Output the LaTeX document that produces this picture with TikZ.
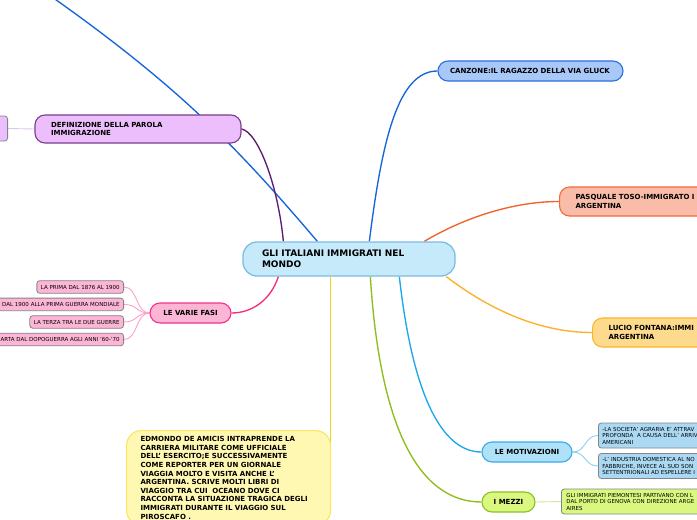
\documentclass[tikz,border=0pt]{standalone}
\usepackage{fontspec}
\setmainfont{DejaVu Sans}
\usepackage{tikz}
\usetikzlibrary{calc,positioning,shapes}
\pgfdeclarelayer{bg}
\pgfsetlayers{bg,main}

\definecolor{rootfill}{HTML}{C6EAFA}
\definecolor{rootline}{HTML}{7CBDE4}
\definecolor{songfill}{HTML}{A8C8F8}
\definecolor{songline}{HTML}{2C6EDD}
\definecolor{tosofill}{HTML}{F9BCA8}
\definecolor{tosoline}{HTML}{F26A3B}
\definecolor{fontfill}{HTML}{FEDB8C}
\definecolor{fontline}{HTML}{FBB52A}
\definecolor{motfill}{HTML}{AFE1F9}
\definecolor{motline}{HTML}{3AABEA}
\definecolor{causefill}{HTML}{ABD9F3}
\definecolor{mezfill}{HTML}{DAF77F}
\definecolor{mezline}{HTML}{8CC21F}
\definecolor{fasefill}{HTML}{FDB5D5}
\definecolor{faseline}{HTML}{F0338A}
\definecolor{defnfill}{HTML}{ECBFFC}
\definecolor{defnline}{HTML}{7B3C8F}
\definecolor{edmfill}{HTML}{FFF8B3}
\definecolor{edmline}{HTML}{FBE563}
\definecolor{leafline}{HTML}{82868C}
\definecolor{bluelink}{HTML}{1766D9}
\definecolor{purplelink}{HTML}{5C1C72}
\definecolor{orangelink}{HTML}{F2612C}
\definecolor{amberlink}{HTML}{FCB12A}
\definecolor{skylink}{HTML}{1DA8EA}
\definecolor{greenlink}{HTML}{8EBD1E}
\definecolor{yellowlink}{HTML}{EAD41F}
\definecolor{pinklink}{HTML}{F2317F}
\definecolor{pinktwig}{HTML}{F9A3CB}
\definecolor{skytwig}{HTML}{8DD1F3}
\definecolor{greentwig}{HTML}{CFE99A}
\definecolor{lilactwig}{HTML}{DCC8E6}

\tikzset{%
	root/.style   = {draw=rootline, fill=rootfill, line width=1.3pt, rounded corners=14pt, align=left, font=\bfseries\fontsize{9}{11}\selectfont}, % Centre
	branch/.style = {line width=1.1pt, rounded corners=10pt, font=\bfseries\fontsize{7}{8.6}\selectfont}, % Main topic
	leaf/.style   = {draw=leafline, line width=0.8pt, rounded corners=3pt, inner xsep=4pt, font=\fontsize{5.5}{6.5}\selectfont}, % Sub topic
	link/.style   = {line width=1.35pt}, % Main connector
	twig/.style   = {line width=0.9pt}, % Sub connector
}

\begin{document}
\begin{tikzpicture}[x=1pt, y=-1pt]
	\useasboundingbox (0,0) rectangle (697,520);
	\node[root, text width=174pt, inner xsep=19pt, minimum height=34pt] (root) at (349,259) {GLI ITALIANI IMMIGRATI NEL\\MONDO};
	\node[branch, draw=songline, fill=songfill, text width=161pt, inner xsep=12pt, minimum height=20pt] (song) at (530.5,71) {CANZONE:IL RAGAZZO DELLA VIA GLUCK};
	\node[branch, draw=tosoline, fill=tosofill, anchor=west, align=left, text width=200pt, inner xsep=16pt, minimum height=29pt] (toso) at (559,201.5) {PASQUALE TOSO-IMMIGRATO I\\ARGENTINA};
	\node[branch, draw=fontline, fill=fontfill, anchor=west, align=left, text width=200pt, inner xsep=16pt, minimum height=29pt] (fontana) at (592,332.5) {LUCIO FONTANA:IMMI\\ARGENTINA};
	\node[branch, draw=defnline, fill=defnfill, align=left, text width=174pt, inner xsep=16pt, minimum height=28pt] (defn) at (138,129) {DEFINIZIONE DELLA PAROLA\\IMMIGRAZIONE};
	\node[leaf, fill=defnfill, anchor=east, minimum width=40pt, minimum height=25pt] (defnleaf) at (8,128.5) {};
	\node[branch, draw=faseline, fill=fasefill, minimum width=81pt, minimum height=20pt] (fasi) at (190.5,313) {LE VARIE FASI};
	\node[leaf, fill=fasefill, anchor=east, minimum height=12.6pt] (fase1) at (124,287) {LA PRIMA DAL 1876 AL 1900};
	\node[leaf, fill=fasefill, anchor=east, minimum height=12.6pt, text width=135pt, align=right] (fase2) at (124,304.4) {DAL 1900 ALLA PRIMA GUERRA MONDIALE};
	\node[leaf, fill=fasefill, anchor=east, minimum height=12.6pt] (fase3) at (124,322) {LA TERZA TRA LE DUE GUERRE};
	\node[leaf, fill=fasefill, anchor=east, minimum height=12.6pt, text width=135pt, align=right] (fase4) at (124,339.5) {ARTA DAL DOPOGUERRA AGLI ANNI '60-'70};
	\node[branch, draw=motline, fill=motfill, minimum width=90pt, minimum height=20pt] (motiv) at (527,452) {LE MOTIVAZIONI};
	\node[leaf, fill=causefill, anchor=west, align=left, text width=150pt, minimum height=25pt] (cause1) at (598,435.5) {-LA SOCIETA' AGRARIA E' ATTRAV\\PROFONDA\ \ A CAUSA DELL' ARRIV\\AMERICANI};
	\node[leaf, fill=causefill, anchor=west, align=left, text width=150pt, minimum height=25pt] (cause2) at (598,466) {-L' INDUSTRIA DOMESTICA AL NO\\FABBRICHE, INVECE AL SUD SON\\SETTENTRIONALI AD ESPELLERE I};
	\node[branch, draw=mezline, fill=mezfill, minimum width=53pt, minimum height=20pt] (mezzi) at (508.5,502) {I MEZZI};
	\node[leaf, fill=mezfill, anchor=west, align=left, text width=180pt, inner xsep=5pt, minimum height=25pt] (mezzo) at (561,501.5) {GLI IMMIGRATI PIEMONTESI PARTIVANO CON L\\DAL PORTO DI GENOVA CON DIREZIONE ARGE\\AIRES};
	\node[branch, draw=edmline, fill=edmfill, rounded corners=15pt, anchor=north west, align=left, text width=176pt, inner xsep=14pt, inner ysep=6pt, minimum height=94pt] (edm) at (126,430) {EDMONDO DE AMICIS INTRAPRENDE LA\\CARRIERA MILITARE COME UFFICIALE\\DELL' ESERCITO;E SUCCESSIVAMENTE\\COME REPORTER PER UN GIORNALE\\VIAGGIA MOLTO E VISITA ANCHE L'\\ARGENTINA. SCRIVE MOLTI LIBRI DI\\VIAGGIO TRA CUI\ \ OCEANO DOVE CI\\RACCONTA LA SITUAZIONE TRAGICA DEGLI\\IMMIGRATI DURANTE IL VIAGGIO SUL\\PIROSCAFO .};
	\coordinate (offtop) at (13,-30);
	\begin{pgfonlayer}{bg}
	\fill[white] (0,0) rectangle (697,520);
	\draw[link, bluelink] ($(root.north west)+(75,0)$) .. controls (235,145) and (175,80) .. (offtop);
	\draw[link, purplelink] (defn.east) .. controls (258,132) and (278,185) .. ($(root.north west)+(41,0)$);
	\draw[link, bluelink] ($(root.north west)+(127,0)$) .. controls (382,140) and (398,71) .. (song.west);
	\draw[link, orangelink] ($(root.north west)+(182,0)$) .. controls (460,220) and (510,201.5) .. (toso.west);
	\draw[link, amberlink] ($(root.south west)+(204,0)$) .. controls (490,310) and (540,332.5) .. (fontana.west);
	\draw[link, skylink] ($(root.south west)+(157,0)$) .. controls (412,390) and (440,452) .. (motiv.west);
	\draw[link, greenlink] ($(root.south west)+(128,0)$) .. controls (380,430) and (420,502) .. (mezzi.west);
	\draw[link, yellowlink] ($(root.south west)+(88,0)$) |- (edm.east);
	\draw[link, pinklink] ($(root.south west)+(36,0)$) .. controls (270,302) and (250,313) .. (fasi.east);
	\draw[twig, lilactwig] (defn.west) -- (defnleaf.east);
	\foreach \n in {1,...,4}
		\draw[twig, pinktwig] (fasi.west) .. controls +(-14,0) and +(14,0) .. (fase\n.east);
	\foreach \n in {1,2}
		\draw[twig, skytwig] (motiv.east) .. controls +(14,0) and +(-14,0) .. (cause\n.west);
	\draw[twig, greentwig] (mezzi.east) -- (mezzo.west);
	\end{pgfonlayer}
\end{tikzpicture}
\end{document}
